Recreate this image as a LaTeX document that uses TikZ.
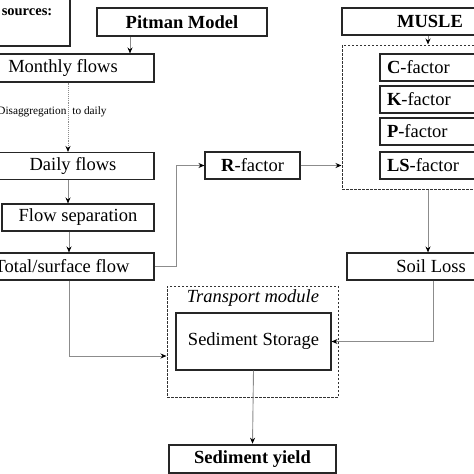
\documentclass[tikz,border=0pt]{standalone}
\usepackage{fontspec}
\setmainfont{Liberation Serif}
\usetikzlibrary{arrows.meta, positioning, calc}
\tikzset{>={Stealth[length=6pt,width=5pt,black]}}

\begin{document}
\begin{tikzpicture}[x=1pt,y=-1pt,font=\fontsize{18.5}{21}\selectfont]
\tikzstyle{box}=[draw=black!85,line width=1.1pt,rectangle,minimum height=27pt,inner sep=0pt]
\tikzstyle{head}=[box,line width=2.6pt,font=\fontsize{18.5}{21}\selectfont\bfseries]
\tikzstyle{factor}=[box,minimum width=140pt,text width=126pt,align=left]
\tikzstyle{group}=[draw=black!80,line width=1pt,dashed,dash pattern=on 2.5pt off 1.5pt,inner sep=0pt]
\tikzstyle{link}=[->,draw=black!45,line width=0.9pt]
\tikzstyle{lbl}=[font=\fontsize{11.3}{13}\selectfont,inner sep=0pt]

\clip (0,0) rectangle (474,474);

% data box (cut at the corner)
\node[box,align=center,minimum width=86pt,minimum height=56pt,font=\fontsize{14.5}{17}\selectfont\bfseries] (src) at (27,18) {sources:\\[-5pt]\mbox{}};

% hydrology side
\node[head,minimum width=170pt,minimum height=28pt] (pit) at (182,22) {Pitman Model};
\node[box,minimum width=182pt,minimum height=28pt] (mon) at (63,68) {Monthly flows};
\node[box,minimum width=162pt] (day) at (73,166) {Daily flows};
\node[box,minimum width=152pt] (sep) at (78,217.5) {Flow separation};
\node[box,minimum width=184pt] (tot) at (62,266.5) {Total/surface flow};
\node[box,minimum width=95pt] (rf) at (252.5,165.5) {\textbf{R}-factor};

% erosion side
\node[head,minimum width=176pt,minimum height=27pt] (mus) at (430,21.5) {MUSLE};
\node[group,minimum width=172pt,minimum height=144pt] (cont) at (428,117) {};
\node[factor] (cf) at (450,67.5) {\textbf{C}-factor};
\node[factor] (kf) at (450,99.5) {\textbf{K}-factor};
\node[factor] (pf) at (450,131.5) {\textbf{P}-factor};
\node[factor] (lsf) at (450,165.5) {\textbf{LS}-factor};
\node[box,minimum width=168pt] (soil) at (431,266.5) {Soil Loss};

% transport
\node[group,minimum width=171pt,minimum height=111pt] (trans) at (252.5,341.5) {};
\node[font=\fontsize{18.5}{21}\selectfont\itshape,inner sep=0pt] (tlab) at (253,298) {Transport module};
\node[box,minimum width=155pt,minimum height=57pt] (stor) at (253.5,341.5) {Sediment Storage};
\node[head,minimum width=167pt,minimum height=28pt] (yld) at (252.5,459) {Sediment yield};

% connectors
\draw[link] ([xshift=-52pt]pit.south) -- ([xshift=67pt]mon.north);
\draw[link,densely dotted] ([xshift=5pt]mon.south) -- node[lbl,pos=0.42,xshift=-16pt] {Disaggregation\hspace{6pt}to daily} ([xshift=-5pt]day.north);
\draw[link] ([xshift=-5pt]day.south) -- ([xshift=-10pt]sep.north);
\draw[link] ([xshift=-9pt]sep.south) -- ([xshift=7pt]tot.north);
\draw[link] ([xshift=7pt]tot.south) |- ([yshift=-14.5pt]trans.west);
\draw[link] (tot.east) -- ++(22,0) |- (rf.west);
\draw[link] (rf.east) -- (rf.east -| cont.west);
\draw[link] ([xshift=-2pt]mus.south) -- (cont.north);
\draw[link] (cont.south) -- ([xshift=-3pt]soil.north);
\draw[link] ([xshift=2pt]soil.south) |- (stor.east);
\draw[link] (stor.south) -- (yld.north);
\end{tikzpicture}
\end{document}
